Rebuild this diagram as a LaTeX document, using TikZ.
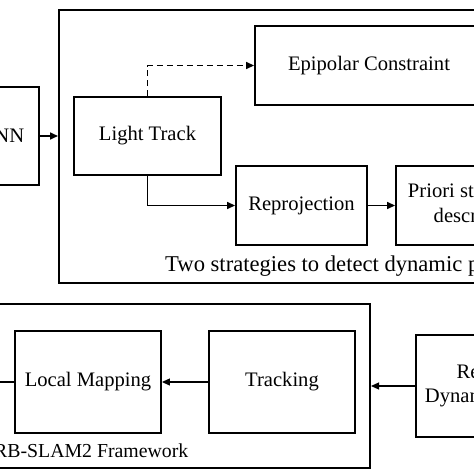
\documentclass[tikz,border=0pt]{standalone}
\usepackage{fontspec}
\setmainfont{Liberation Serif}
\usetikzlibrary{arrows.meta}
\begin{document}
\begin{tikzpicture}[x=1pt,y=-1pt,
  box/.style={draw,line width=1.9pt,inner sep=0pt,align=center,
    font=\fontsize{20.6}{24.5}\selectfont},
  outerbox/.style={draw,line width=2pt,inner sep=0pt},
  conn/.style={line width=1.6pt},
  arr/.style={conn,-{Triangle[length=8pt,width=7pt]}},
  caption/.style={inner sep=0pt}]
\clip (0,0) rectangle (474,474);
\fill[white] (0,0) rectangle (474,474);
% top group
\node[outerbox,minimum width=461pt,minimum height=273pt] (top) at (289.5,146.5) {};
\node[box,minimum width=73pt,minimum height=98pt] (cnn) at (2.5,136) {CNN};
\node[box,minimum width=147pt,minimum height=78pt] (lt) at (147.5,136) {Light Track};
\node[box,minimum width=228pt,minimum height=79pt] (epi) at (369,65.5) {Epipolar Constraint};
\node[box,minimum width=131pt,minimum height=79pt] (rep) at (301.5,205.5) {Reprojection};
\node[box,minimum width=167pt,minimum height=79pt] (pri) at (479.5,205.5) {Priori static point\\description};
\node[caption,anchor=base west,font=\fontsize{22.6}{27}\selectfont] (cap1) at (165,271) {Two strategies to detect dynamic points};
% bottom group
\node[outerbox,minimum width=410pt,minimum height=164pt] (bot) at (165,386) {};
\node[box,minimum width=146pt,minimum height=102pt] (lm) at (88,382) {Local Mapping};
\node[box,minimum width=146pt,minimum height=102pt] (trk) at (282,382) {Tracking};
\node[caption,anchor=base east,font=\fontsize{19.8}{24}\selectfont] (cap2) at (188.5,457) {ORB-SLAM2 Framework};
\node[box,minimum width=150pt,minimum height=102pt] (rm) at (491,386) {Remove\\Dynamic Points};
\coordinate (lc) at (-30,382);
% connectors
\draw[arr] (cnn.east) -- (cnn.east -| top.west);
\draw[arr,dash pattern=on 6pt off 4pt] (lt.north) |- (epi.west);
\draw[arr] (lt.south) |- (rep.west);
\draw[arr] (rep.east) -- (pri.west);
\draw[arr,line width=1.2pt] (trk.west) -- (lm.east);
\draw[arr,line width=1.2pt] (rm.west) -- (rm.west -| bot.east);
\draw[arr,line width=1.2pt] (lm.west) -- (lc);
\end{tikzpicture}
\end{document}
